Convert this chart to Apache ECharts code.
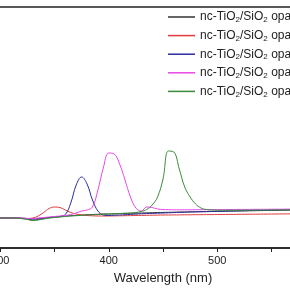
<!DOCTYPE html>
<html>
<head>
<meta charset="utf-8">
<script src="https://cdn.jsdelivr.net/npm/echarts@6/dist/echarts.min.js"></script>
<style>
  html, body { margin: 0; padding: 0; background: #fff; overflow: hidden; }
  /* the reference is a crop of a wider plot, so the chart box runs past both edges */
  #chart { position: absolute; left: -57px; top: 0; width: 440px; height: 290px; }
</style>
</head>
<body>
<div id="chart"></div>
<script>
// wavelength grid (nm) and intensities (a.u.)
var wavelength = [290,295,300,305,310,315,320,325,330,335,340,345,350,355,360,365,370,375,380,385,
  390,395,400,405,410,415,420,425,430,435,440,445,450,455,460,465,470,475,480,485,
  490,495,500,505,510,515,520,525,530,535,540,545,550,555,560,565,570,575,580,585,590,595,600]

var opalBlack = [30,30,30,30,30,30,29.5,29,28,28.5,29.5,30.5,31,31.5,32,32.3,32.6,33,33.2,33.5,
  33.7,34,34,34.2,34.4,34.5,34.7,34.8,35,35.2,35.3,35.5,35.6,35.7,35.8,36,36,36.2,36.3,36.4,
  36.5,36.6,36.7,36.8,36.9,37,37,37.1,37.2,37.3,37.4,37.5,37.6,37.7,37.8,37.9,38,38,38.1,38.2,38.3,38.4,38.5]

var opalRed = [30.5,30.5,30.5,30.3,30.2,30,29.8,29.5,30,32,35.5,39.5,41,40.5,38,35.5,34,33,32.5,32.2,
  32,32,32,32.1,32.2,32.3,32.4,32.5,32.6,32.7,32.8,32.9,33,33,33.1,33.1,33.2,33.2,33.3,33.3,
  33.4,33.4,33.5,33.5,33.6,33.6,33.7,33.7,33.8,33.8,33.9,33.9,34,34,34.1,34.1,34.2,34.2,34.3,34.3,34.4,34.4,34.5]

var opalBlue = [30,30,30,30,30,30,29.8,29.5,29,29.5,30,30.5,31,31.5,33.5,45,63,71,64,48,
  37,33,32.5,32.8,33,33.3,33.6,33.9,34.2,34.4,34.6,34.8,35,35.2,35.4,35.6,35.8,36,36.1,36.2,
  36.3,36.5,36.6,36.7,36.9,37,37.2,37.3,37.5,37.6,37.7,37.8,37.9,38,38.1,38.2,38.3,38.3,38.4,38.5,38.5,38.6,38.7]

var opalMagenta = [30,30,30,30,30,30,29.8,29.5,29.5,30,30.5,31,31.5,32,32.5,33.5,35,37,38,41,
  58,80,95,94,84,68,51,40,37,41,40.5,39,38.5,38.3,38.2,38.2,38.2,38.2,38.3,38.3,
  38.3,38.4,38.4,38.4,38.5,38.5,38.6,38.6,38.6,38.7,38.7,38.7,38.8,38.8,38.8,38.9,38.9,38.9,39,39,39,39.1,39.1]

var opalGreen = [30,30,30,30,30,29.8,29.3,28.5,27.5,28,29,29.8,30.5,31,31.5,32,32.3,32.6,33,33.2,
  33.5,33.8,34,34.2,34.5,34.8,35,35.5,36.5,38.5,43,51,69,97,96,79,61,51,44,40,
  38.5,38,37.8,37.7,37.7,37.7,37.8,37.8,37.8,37.9,37.9,37.9,38,38,38,38.1,38.1,38.1,38.2,38.2,38.2,38.3,38.3]

var seriesNames = ['nc-TiO2/SiO2 opal 1', 'nc-TiO2/SiO2 opal 2', 'nc-TiO2/SiO2 opal 3',
  'nc-TiO2/SiO2 opal 4', 'nc-TiO2/SiO2 opal 5']
var seriesColors = ['#333333', '#e03a3a', '#2c2c9e', '#e848e8', '#3a8a3a']
var seriesData = [opalBlack, opalRed, opalBlue, opalMagenta, opalGreen]

function pairs (ys) {
  return wavelength.map(function (w, i) { return [w, ys[i]] })
}

var myChart = echarts.init(document.getElementById('chart'))
myChart.setOption({
  animation: false,
  textStyle: { fontFamily: 'Liberation Sans' },
  grid: {
    left: 0, right: 0, top: 7, bottom: 42,
    show: true, borderColor: '#222', borderWidth: 1.5
  },
  legend: {
    orient: 'vertical',
    left: 225,
    top: 10,
    padding: 0,
    icon: 'rect',
    itemWidth: 27,
    itemHeight: 1.5,
    itemGap: 4.6,
    textStyle: {
      color: '#222',
      fontSize: 12,
      lineHeight: 14,
      rich: {
        s: { fontSize: 8, verticalAlign: 'bottom', color: '#222' }
      }
    },
    formatter: function (name) {
      return name.replace(/O2/g, 'O{s|2}')
    },
    data: seriesNames
  },
  xAxis: {
    type: 'value',
    min: 250,
    max: 650,
    interval: 50,
    name: 'Wavelength (nm)',
    nameLocation: 'middle',
    nameGap: 24,
    nameTextStyle: { fontSize: 13, color: '#222' },
    axisLine: { lineStyle: { color: '#222', width: 1.5 } },
    axisTick: { inside: false, length: 4, lineStyle: { color: '#222' } },
    axisLabel: {
      fontSize: 11,
      color: '#222',
      margin: 7,
      formatter: function (v) { return v % 100 === 0 ? String(v) : '' }
    },
    splitLine: { show: false }
  },
  yAxis: {
    type: 'value',
    min: 0,
    max: 241,
    show: false,
    splitLine: { show: false }
  },
  series: seriesNames.map(function (n, i) {
    return {
      name: n,
      type: 'line',
      smooth: 0.4,
      symbol: 'none',
      data: pairs(seriesData[i]),
      lineStyle: { width: 1, color: seriesColors[i] },
      itemStyle: { color: seriesColors[i] }
    }
  })
})
</script>
</body>
</html>
